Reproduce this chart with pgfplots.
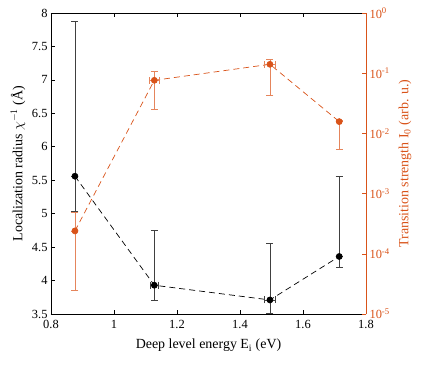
\documentclass[border=0pt]{standalone}
\usepackage{pgfplots}
\pgfplotsset{compat=1.18}
\usepackage{fontspec}
\setmainfont{Liberation Serif}
\definecolor{morange}{rgb}{0.85,0.325,0.098}
\definecolor{lorange}{rgb}{0.90,0.52,0.36}
\begin{document}
\begin{tikzpicture}[font=\fontsize{12.5}{14}\selectfont]
\useasboundingbox (-51bp,-51bp) rectangle (374bp,314bp);
\begin{axis}[
  at={(0,0)}, anchor=south west,
  scale only axis, width=315bp, height=301bp,
  xmin=0.8, xmax=1.8, ymin=3.5, ymax=8,
  axis x line*=box, axis y line*=left,
  xtick={0.8,1,...,1.8},
  xticklabels={0.8,1,1.2,1.4,1.6,1.8},
  ytick={3.5,4,...,8},
  yticklabels={3.5,4,4.5,5,5.5,6,6.5,7,7.5,8},
  tick align=inside,
  major tick length=4bp,
  /pgf/number format/assume math mode=true,
  tick label style={font=\fontsize{12.5}{14}\selectfont},
  xticklabel style={yshift=-3bp},
  xlabel={Deep level energy E\textsubscript{i} (eV)},
  ylabel={Localization radius $\chi^{-1}$ (Å)},
  xlabel style={at={(0.5,-0.105)}, anchor=center, font=\fontsize{14}{16}\selectfont},
  ylabel style={at={(-0.105,0.5)}, anchor=center, font=\fontsize{14}{16}\selectfont},
  axis line style={black, line width=0.6pt},
  every tick/.style={black, line width=0.6pt},
]
\addplot[black, dashed, dash pattern=on 6bp off 4bp, line width=0.7pt,
  mark=*, mark size=3bp, mark options={solid, fill=black},
  error bars/.cd, y dir=both, y explicit, x dir=both, x explicit,
  error bar style={color=black!75, line width=0.7pt, solid},
  error mark options={rotate=90, mark size=3.5bp, line width=0.7pt, black!75}]
table[x=x, y=y, y error plus=yp, y error minus=ym, x error=xe] {
x      y     yp     ym     xe
0.876  5.56  2.31   0.53   0
1.128  3.93  0.815  0.22   0.014
1.495  3.71  0.84   0.20   0.018
1.715  4.36  1.20   0.16   0
};
\end{axis}
\begin{axis}[
  at={(0,0)}, anchor=south west,
  scale only axis, width=315bp, height=301bp,
  xmin=0.8, xmax=1.8, ymin=1e-5, ymax=1,
  ymode=log, log basis y=10,
  axis x line=none, axis y line*=right,
  ytick={1e-5,1e-4,1e-3,1e-2,1e-1,1},
  yticklabel={10\textsuperscript{\pgfmathparse{int(round(\tick))}\pgfmathresult}},
  tick align=inside,
  major tick length=4bp, minor tick length=2bp,
  tick label style={font=\fontsize{12.5}{14}\selectfont, color=morange},
  ylabel={Transition strength I\textsubscript{0} (arb. u.)},
  ylabel style={at={(1.124,0.5)}, anchor=center, color=morange, font=\fontsize{14}{16}\selectfont},
  axis line style={morange, line width=0.6pt},
  every tick/.style={morange, line width=0.5pt},
]
\addplot[morange, dashed, dash pattern=on 6bp off 4bp, line width=0.7pt,
  mark=*, mark size=3bp, mark options={solid, fill=morange},
  error bars/.cd, y dir=both, y explicit, x dir=both, x explicit,
  error bar style={color=lorange, line width=0.7pt, solid},
  error mark options={rotate=90, mark size=3.5bp, line width=0.7pt, lorange}]
table[x=x, y=y, y error plus=yp, y error minus=ym, x error=xe] {
x      y        yp       ym       xe
0.876  2.4e-4   2.4e-4   2.15e-4  0
1.128  0.0762   0.033    0.0508   0.015
1.495  0.1406   0.029    0.0972   0.017
1.715  0.0157   0.0005   0.0102   0
};
\end{axis}
\end{tikzpicture}
\end{document}
